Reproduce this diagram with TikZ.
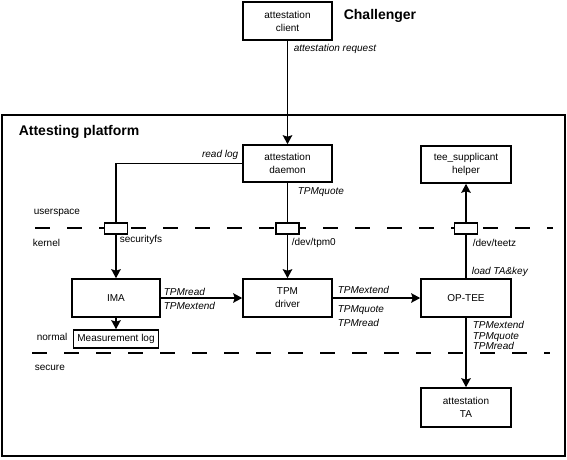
\documentclass[tikz,border=0pt]{standalone}
\usepackage{fontspec}
\setmainfont{Liberation Sans}
\usetikzlibrary{arrows.meta}
\usetikzlibrary{calc}

\begin{document}
\begin{tikzpicture}[x=1pt,y=-1pt,line width=1.6pt,>={Stealth[length=9pt,width=9.5pt,inset=1.5pt]},
  box/.style={draw,fill=white,align=center,minimum width=89pt,minimum height=38pt,inner sep=1pt,font=\fontsize{10}{13}\selectfont},
  port/.style={draw,fill=white,minimum width=23pt,minimum height=11pt,inner sep=0pt},
  lbl/.style={font=\fontsize{10}{14}\selectfont\itshape,inner sep=1pt,text height=7pt,text depth=2pt},
  lbls/.style={font=\fontsize{10}{14}\selectfont\itshape,inner sep=1pt,align=left,anchor=west},
  lyr/.style={font=\fontsize{10}{12}\selectfont,inner sep=1pt,anchor=west,text height=7pt,text depth=2pt},
  ttl/.style={font=\fontsize{14}{16}\selectfont\bfseries,inner sep=1pt,anchor=west},
  layerline/.style={line width=2.2pt,dash pattern=on 15pt off 17pt}]
\useasboundingbox (0,0) rectangle (567,459);
% platform frame and layer borders
\draw (2,115) rectangle (565,456);
\draw [layerline] (35,228) -- (553,228);
\draw [layerline] (32,353) -- (550,353);
\node [ttl] (chal) at (342,16) {Challenger};
\node [ttl] (plat) at (17,132) {Attesting platform};
\node [lyr] (user) at (32,212) {userspace};
\node [lyr] (kern) at (31,244) {kernel};
\node [lyr] (norm) at (35,338) {normal};
\node [lyr] (sec) at (33,368) {secure};
% components
\node [box] (client) at (287.5,21) {attestation\\client};
\node [box,minimum height=37pt] (daemon) at (287.5,163.5) {attestation\\daemon};
\node [box,minimum width=90pt,minimum height=37pt] (helper) at (466,164.5) {tee\_supplicant\\helper};
\node [box,minimum width=88pt] (ima) at (116,298) {IMA};
\node [box] (tpm) at (287.5,298) {TPM\\driver};
\node [box,minimum width=90pt] (optee) at (466,298) {OP-TEE};
\node [box,minimum width=85pt,minimum height=18pt] (mlog) at (116,339) {Measurement log};
\node [box,minimum width=90pt,minimum height=39pt] (ta) at (466,407.5) {attestation\\TA};
% kernel interfaces
\node [port] (if1) at (116,228.5) {};
\node [port] (if2) at (287.5,228.5) {};
\node [port] (if3) at (466,228.5) {};
\node [lyr] (sfs) at (118,240) {securityfs};
\node [lyr] (tpm0) at (290,243) {/dev/tpm0};
\node [lyr] (teetz) at (471,244) {/dev/teetz};
% connectors
\draw [->] (client) -- (daemon);
\draw (daemon.west) -| (if1.north);
\draw [->] (if1) -- (ima);
\draw (daemon) -- (if2);
\draw [->] (if2) -- (tpm);
\draw (optee) -- (if3);
\draw [->] (if3) -- (helper);
\draw [->] (ima) -- (mlog);
\draw [->] (ima) -- (tpm);
\draw [->] (tpm) -- (optee);
\draw [->] (optee) -- (ta);
% call labels
\node [lbl,anchor=west] (req) at (292,49) {attestation request};
\node [lbl,anchor=east] (rdlog) at (240,155) {read log};
\node [lbl,anchor=west] (dquote) at (296,192) {TPMquote};
\node [lbl,anchor=west] (load) at (470,272) {load TA\&key};
\node [lbls] (imacall) at (162,299) {TPMread\\TPMextend};
\node [lbl,anchor=west] (tpmext) at (336,291) {TPMextend};
\node [lbls] (tpmcall) at (336,316) {TPMquote\\TPMread};
\node [lbls,font=\fontsize{10}{10.5}\selectfont\itshape] (teecall) at (471,335.5) {TPMextend\\TPMquote\\TPMread};
\end{tikzpicture}
\end{document}
